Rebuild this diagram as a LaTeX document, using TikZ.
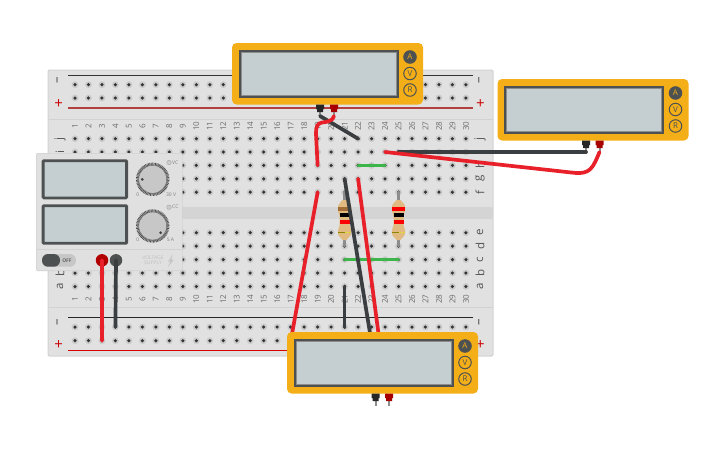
\documentclass[tikz,border=0pt]{standalone}
\usepackage{fontspec}
\setmainfont{Open Sans}
\usetikzlibrary{calc}
\definecolor{board}{HTML}{E1E1E1}
\definecolor{boardedge}{HTML}{D2D2D2}
\definecolor{groove}{HTML}{D4D4D4}
\definecolor{halo}{HTML}{CACACA}
\definecolor{hole}{HTML}{333333}
\definecolor{amber}{HTML}{F4AE17}
\definecolor{screen}{HTML}{C5CED1}
\definecolor{frameg}{HTML}{4D5152}
\definecolor{wred}{HTML}{E8202A}
\definecolor{wblack}{HTML}{3A3E40}
\definecolor{wgreen}{HTML}{3DB54A}
\definecolor{tan}{HTML}{E0BA80}
\tikzset{
 x=1pt,y=-1pt,
 wire/.style={line width=3.7pt,line cap=round,line join=round},
 redw/.style={wire,draw=wred},
 blackw/.style={wire,draw=wblack},
 greenw/.style={wire,draw=wgreen,line width=2.8pt},
 lab/.style={font=\fontsize{8}{8}\selectfont,text=black!58,rotate=90,inner sep=0pt},
 rowlab/.style={font=\fontsize{11.5}{11.5}\selectfont,text=black!68,rotate=90,inner sep=0pt},
 railminus/.style={font=\fontsize{13}{13}\selectfont,text=black!70,rotate=90,inner sep=0pt},
 railplus/.style={font=\fontsize{15}{15}\selectfont,text=red!80!black,inner sep=0pt},
 tiny/.style={font=\fontsize{5}{5.5}\selectfont,text=black!50,inner sep=0pt,align=center},
 meterbody/.style={fill=amber,rounded corners=4.5pt,draw=none},
 meterscreen/.style={fill=screen,draw=frameg,line width=2.4pt,outer sep=0pt,inner sep=0pt,anchor=north west,minimum width=158pt,minimum height=45.6pt},
 meterbtn/.style={circle,draw=frameg,line width=1pt,minimum size=12.5pt,inner sep=0pt,font=\fontsize{8}{8}\selectfont,text=frameg},
 meteron/.style={meterbtn,fill=frameg,text=amber},
 psscreen/.style={fill=screen,draw=frameg,line width=2.8pt,rounded corners=0.8pt,outer sep=0pt,inner sep=0pt,anchor=north west,minimum width=83.5pt},
 knob/.style={circle,fill=black!22,minimum size=31pt,inner sep=0pt,outer sep=0pt},
 probetipb/.style={fill=black!85,draw=none},
 probetipr/.style={fill=red!65!black,draw=none},
 probepin/.style={line width=2pt,draw=black!45},
}
\newcommand{\metre}[5]{% name, left, top, black probe x, red probe x
 \fill[meterbody] (#2,#3) rectangle ++(191,61.5);
 \node[meterscreen] (#1s) at (#2+7.7,#3+7.9) {};
 \draw[black!45,line width=.6pt] (#1s.north west) ++(1.5,1.5) rectangle ($(#1s.south east)+(-1.5,-1.5)$);
 \node[meteron] (#1a) at (#2+178,#3+14) {A};
 \node[meterbtn] (#1v) at (#2+178,#3+30.5) {V};
 \node[meterbtn] (#1r) at (#2+178,#3+47) {R};
 \draw[probepin] (#4,#3+66) -- (#4,#3+74);
 \draw[probepin] (#5,#3+66) -- (#5,#3+74);
 \fill[probetipb] (#4-4,#3+61.5) rectangle (#4+4,#3+66) (#4-3,#3+66) rectangle (#4+3,#3+69);
 \fill[probetipr] (#5-4,#3+61.5) rectangle (#5+4,#3+66) (#5-3,#3+66) rectangle (#5+3,#3+69);
 \coordinate (#1pb) at (#4,#3+73);
 \coordinate (#1pr) at (#5,#3+73);
}
\newcommand{\resistor}[6]{% x, band colours
 \draw[line width=2.4pt,line cap=round,draw=black!45] (#1,192) -- (#1,246);
 \path[fill=tan] (#1-2,200) .. controls (#1-3,202) and (#1-6.7,204) .. (#1-6.7,207)
  -- (#1-6.7,210.5) .. controls (#1-6.7,213) and (#1-5,213) .. (#1-5,216)
  -- (#1-5,225) .. controls (#1-5,228) and (#1-6.7,228) .. (#1-6.7,231)
  -- (#1-6.7,233) .. controls (#1-6.7,236) and (#1-3,238) .. (#1-2,240)
  -- (#1+2,240) .. controls (#1+3,238) and (#1+6.7,236) .. (#1+6.7,233)
  -- (#1+6.7,231) .. controls (#1+6.7,228) and (#1+5,228) .. (#1+5,225)
  -- (#1+5,216) .. controls (#1+5,213) and (#1+6.7,213) .. (#1+6.7,210.5)
  -- (#1+6.7,207) .. controls (#1+6.7,204) and (#1+3,202) .. (#1+2,200) -- cycle;
 \fill[#2] (#1-6.7,206.7) rectangle (#1+6.7,210.7);
 \fill[#3] (#1-5,213.3) rectangle (#1+5,217);
 \fill[#4] (#1-5,220) rectangle (#1+5,224);
 \fill[#5] (#1-6.5,231.5) rectangle (#1,232.8);
 \fill[#6] (#1,231.5) rectangle (#1+6.5,232.8);
}
\begin{document}
\begin{tikzpicture}
\useasboundingbox (0,0) rectangle (725,453);
% breadboard
\fill[boardedge] (47.5,69.5) [rounded corners=2pt] rectangle (493.5,356.5);
\fill[board] (48.5,70.5) [rounded corners=2pt] rectangle (492.5,355.5);
\fill[groove] (48.5,207) rectangle (492.5,219);
\draw[boardedge,line width=.8pt] (48.5,119) -- (492.5,119) (48.5,307) -- (492.5,307);
\draw[black!80,line width=1.4pt] (68,75.5) -- (473,75.5);
\draw[black!85,line width=1pt] (68,317.7) -- (473,317.7);
\draw[red!60!black!75!white,line width=1.4pt] (68,108) -- (473,108);
\draw[red!85!black,line width=1pt] (68,350.3) -- (473,350.3);
% rail signs
\foreach \xx in {58.7,480.5}{
 \node[railminus] at (\xx,80) {--};
 \node[railminus] at (\xx,322) {--};
 \node[railplus] at (\xx,104) {+};
 \node[railplus] at (\xx,345.5) {+};
}
% holes
\foreach \rn/\ry in {t/84.7,u/98,j/138.7,i/152,h/165.4,g/178.8,f/192.2,e/232.7,d/246.1,c/259.6,b/273,a/286.5,v/327,w/340.7}{
 \foreach \c in {1,...,30}{
  \pgfmathsetmacro{\cx}{75+13.48*(\c-1)}
  \coordinate (\rn\c) at (\cx,\ry);
  \fill[halo] (\cx,\ry) circle [radius=3.4pt];
  \fill[hole] (\cx,\ry) circle [radius=1.75pt];
 }
}
% column numbers and row letters
\foreach \c in {1,...,30}{
 \pgfmathsetmacro{\cx}{75+13.48*(\c-1)}
 \node[lab] (nt\c) at (\cx,126) {\c};
 \node[lab] (nb\c) at (\cx,299) {\c};
}
\foreach \l/\ry in {j/138.7,i/152,h/165.4,g/178.8,f/192.2,e/232.7,d/246.1,c/259.6,b/273,a/286.5}{
 \node[rowlab] (ll\l) at (60,\ry) {\l};
 \node[rowlab] (lr\l) at (480,\ry) {\l};
}
% power supply
\fill[boardedge] (36,153) [rounded corners=2pt] rectangle (182.5,271);
\fill[black!12!white] (36.6,153.6) [rounded corners=2pt] rectangle (181.8,270.4);
\draw[boardedge,line width=.8pt] (36.5,249.5) -- (182,249.5);
\node[psscreen,minimum height=37.2pt] (d1) at (43.1,160.7) {};
\node[psscreen,minimum height=37.6pt] (d2) at (43.1,205.7) {};
\foreach \n/\cy/\dx/\dy in {k1/179.3/-10.4/0,k2/226/8/6.7}{
 \node[knob] (\n) at (152.7,\cy) {};
 \draw[black!70,line width=2.6pt,dash pattern=on .7pt off .7pt] (152.7,\cy) circle [radius=15.4pt];
 \draw[black!60,line width=.4pt] (152.7,\cy) circle [radius=14pt];
 \fill[black!75] (152.7+\dx,\cy+\dy) circle [radius=1.5pt];
}
\node[tiny] (v0) at (137.7,194.3) {0};
\node[tiny] (v1) at (171,194.3) {30 V};
\node[tiny] (c0) at (137.7,239.3) {0};
\node[tiny] (c1) at (170.5,239.3) {5 A};
\node[circle,draw=black!35,fill=black!20,line width=.4pt,minimum size=4.5pt,inner sep=0pt] (lv) at (169,162.5) {};
\node[tiny,anchor=west] (lvt) at (172,162.5) {VC};
\node[circle,draw=black!35,fill=black!20,line width=.4pt,minimum size=4.5pt,inner sep=0pt] (lc) at (169,207.2) {};
\node[tiny,anchor=west] (lct) at (172,207.2) {CC};
\fill[black!22] (42,254) [rounded corners=6pt] rectangle (76,266.7);
\fill[frameg] (42,254) [rounded corners=6pt] rectangle (60,266.7);
\node[tiny,text=black!60,font=\fontsize{5}{5}\selectfont\bfseries] (off) at (67,260.5) {OFF};
\node[tiny,text=black!25] (vs) at (153,260.3) {VOLTAGE\\SUPPLY};
\fill[black!22] (173,254) -- (168,261.5) -- (170.3,261.5) -- (168,267) -- (174,259.5) -- (171.3,259.5) -- cycle;
\node[circle,fill=red!70!black,minimum size=12.5pt,inner sep=0pt] (tp) at (102,260.3) {};
\node[circle,fill=frameg,minimum size=12.5pt,inner sep=0pt] (tn) at (116,260.3) {};
% resistors
\resistor{344.6}{brown!85!black}{black}{red}{olive}{yellow!70!gray}
\resistor{398.5}{red}{black}{red}{olive}{yellow!70!gray}
% wires on the board
\draw[greenw] (h22) -- (h24);
\draw[greenw] (c21) -- (c25);
\draw[redw] (tp.center) -- (w3);
\draw[blackw] (tn.center) -- (v4);
\draw[blackw] (a21) -- (v21);
\draw[blackw] (g21) -- (372,345);
\draw[redw] (g22) -- (380,345);
\draw[redw] (f19) -- (290,345);
% meters
\metre{m1}{232}{43}{320}{334}
\metre{m2}{497.5}{79}{586}{599.5}
\metre{m3}{287}{332}{375.5}{389}
% wires to meter probes
\draw[blackw] (m1pb) -- (j22);
\draw[redw] (m1pr) .. controls (333,121) and (327,122) .. (322,122.5) .. controls (317.5,123) and (315.7,127) .. (316,134) -- (h19);
\draw[blackw] (i25) -- (m2pb);
\draw[redw] (i24) -- (574,172.8) .. controls (590,174.5) and (593,168) .. (m2pr);
\end{tikzpicture}
\end{document}
